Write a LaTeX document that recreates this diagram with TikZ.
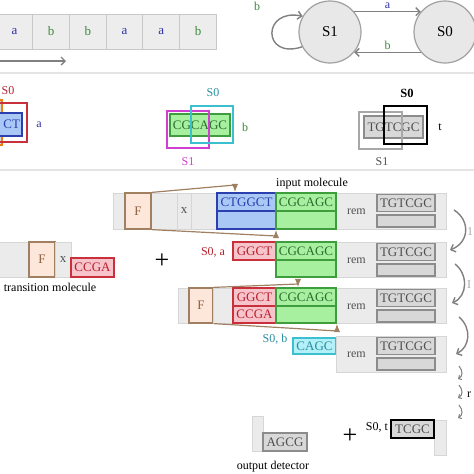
\documentclass[tikz,border=0pt]{standalone}
\usepackage{fontspec}
\setmainfont{Liberation Serif}
\usetikzlibrary{arrows.meta,calc,positioning}

\definecolor{tapefill}{HTML}{EDEDED}
\definecolor{tapedraw}{HTML}{C8C8C8}
\definecolor{statefill}{HTML}{E8E8E8}
\definecolor{statedraw}{HTML}{A0A0A0}
\definecolor{arrowgray}{HTML}{808080}
\definecolor{sepgray}{HTML}{E4E4E4}
\definecolor{syma}{HTML}{3030A8}
\definecolor{symb}{HTML}{3A8A3A}
\definecolor{bluefill}{HTML}{A9C8F5}
\definecolor{bluedraw}{HTML}{2B3FAF}
\definecolor{greenfill}{HTML}{A6F0A0}
\definecolor{greendraw}{HTML}{3E9E3E}
\definecolor{greentext}{HTML}{2E6E2E}
\definecolor{redfill}{HTML}{F8C4CC}
\definecolor{reddraw}{HTML}{C8303C}
\definecolor{redtext}{HTML}{B8202C}
\definecolor{cyanfill}{HTML}{B4F0F8}
\definecolor{cyandraw}{HTML}{3CC0D0}
\definecolor{cyantext}{HTML}{2890A0}
\definecolor{grayfill}{HTML}{D8D8D8}
\definecolor{graydraw}{HTML}{8C8C8C}
\definecolor{graytext}{HTML}{505050}
\definecolor{lightdraw}{HTML}{A8A8A8}
\definecolor{ffill}{HTML}{FDE6DA}
\definecolor{fdraw}{HTML}{A08060}
\definecolor{ftext}{HTML}{906040}
\definecolor{stripfill}{HTML}{EBEBEB}
\definecolor{stripdraw}{HTML}{D6D6D6}
\definecolor{magentadraw}{HTML}{D040D0}

\begin{document}
\begin{tikzpicture}[x=1pt, y=-1pt, >=Latex, font=\fontsize{12}{14}\selectfont,
    box/.style={inner sep=0pt, line width=1.4pt, font=\fontsize{13}{15}\selectfont},
    tapecell/.style={box, draw=tapedraw, fill=tapefill, line width=1pt, minimum width=36.7pt, minimum height=35pt},
    strip/.style={box, draw=stripdraw, fill=stripfill, line width=1pt},
    bluebox/.style={box, draw=bluedraw, fill=bluefill, text=bluedraw},
    greenbox/.style={box, draw=greendraw, fill=greenfill, text=greentext},
    redbox/.style={box, draw=reddraw, fill=redfill, text=redtext},
    cyanbox/.style={box, draw=cyandraw, fill=cyanfill, text=cyantext},
    graybox/.style={box, draw=graydraw, fill=grayfill, text=graytext, line width=1.2pt},
    fbox/.style={box, draw=fdraw, fill=ffill, text=ftext, line width=1.2pt},
    frame/.style={box, fill=none},
    statenode/.style={circle, draw=statedraw, fill=statefill, line width=1.2pt, minimum size=62pt, inner sep=0pt, font=\fontsize{15}{17}\selectfont},
    grayarrow/.style={draw=arrowgray, line width=1.4pt, -{Straight Barb[length=4pt, width=8pt]}},
    brownline/.style={draw=fdraw, line width=1.2pt},
    sepline/.style={draw=sepgray, line width=1.5pt},
    plus/.style={font=\fontsize{26}{26}\selectfont, inner sep=0pt}]
    \useasboundingbox (0,0) rectangle (474,474);
    \clip (0,0) rectangle (474,474);

    % input tape and head
    \foreach \s/\c [count=\i from 0] in {a/syma,b/symb,b/symb,a/syma,a/syma,b/symb}{
        \node[tapecell, text=\c] (tape\i) at (14.5+36.7*\i,31.5) {\s};
    }
    \coordinate (hd0) at (-2,61);
    \coordinate (hd1) at (66,61);
    \draw[grayarrow] (hd0) -- (hd1);

    % automaton
    \node[statenode] (s1) at (330,32) {S1};
    \node[statenode] (s0) at (445,32) {S0};
    \draw[grayarrow] (s1.40) -- node[above, text=syma, inner sep=2pt] {a} (s0.140);
    \draw[grayarrow] (s0.-140) -- node[above, text=symb, inner sep=2pt] {b} (s1.-40);
    \draw[grayarrow] (s1.208) .. controls (262,60) and (262,8) .. (s1.150);
    \node[text=symb] (loopb) at (257,6) {b};

    % separators
    \coordinate (sepa0) at (0,73);
    \coordinate (sepa1) at (474,73);
    \coordinate (sepb0) at (0,170);
    \coordinate (sepb1) at (474,170);
    \draw[sepline] (sepa0) -- (sepa1);
    \draw[sepline] (sepb0) -- (sepb1);

    % encodings of the symbols
    \node[box, draw=orange!70!brown, fill=grayfill, minimum width=14pt, minimum height=45pt] (lfrag) at (-5,122.5) {};
    \node[bluebox, inner xsep=2pt, text width=38pt, align=right, minimum height=23pt] (ctbox) at (1,124.5) {CT};
    \node[frame, draw=reddraw, minimum width=37pt, minimum height=39pt] (lfS0) at (8.5,122.5) {};
    \node[text=redtext, inner sep=1pt] (lfS0lbl) at (8,91) {S0};
    \node[text=syma] (lbla) at (39,125) {a};

    \node[greenbox, minimum width=60pt, minimum height=22pt] (mid) at (200,125) {CGCAGC};
    \node[frame, draw=magentadraw, minimum width=42pt, minimum height=37pt] (midS1) at (188,129.5) {};
    \node[frame, draw=cyandraw, minimum width=42pt, minimum height=37pt] (midS0) at (212,124.5) {};
    \node[text=cyantext] (midS0lbl) at (213,93) {S0};
    \node[text=magentadraw] (midS1lbl) at (188,162) {S1};
    \node[text=symb] (lblb) at (245,127) {b};

    \node[graybox, minimum width=59pt, minimum height=22pt] (rgt) at (393.5,127) {TGTCGC};
    \node[frame, draw=lightdraw, minimum width=43pt, minimum height=37pt] (rgtS1) at (380.5,130.5) {};
    \node[frame, draw=black, minimum width=43pt, minimum height=38pt] (rgtS0) at (405.5,125) {};
    \node[font=\fontsize{12.5}{14}\selectfont\bfseries] (rgtS0lbl) at (407,93) {S0};
    \node[text=graytext] (rgtS1lbl) at (382,162) {S1};
    \node (lblt) at (440,127) {t};

    % input molecule
    \node[strip, minimum width=333pt, minimum height=36pt] (m1) at (279.5,211) {};
    \node[fbox, minimum width=26pt, minimum height=36pt] (m1F) at (138,211) {F};
    \node[strip, text=graytext, minimum width=14pt, minimum height=36pt] (m1x) at (184,211) {x};
    \node[bluebox, minimum width=59pt, minimum height=18pt] (m1in) at (246.5,202) {CTGGCT};
    \node[bluebox, minimum width=59pt, minimum height=18pt] (m1inb) at (246.5,220) {};
    \node[greenbox, minimum width=60pt, minimum height=18pt] (m1g) at (306,202) {CGCAGC};
    \node[greenbox, minimum width=60pt, minimum height=18pt] (m1gb) at (306,220) {};
    \node (inlbl) at (312,184) {input molecule};
    \coordinate (m1k1) at (235,185);
    \coordinate (m1k2) at (276,236);
    \draw[brownline, ->] (m1F.north east) -- (m1k1) -- (m1k1 |- m1in.north);
    \draw[brownline, ->] (m1F.south east) -- (m1k2) -- (m1k2 |- m1inb.south);

    % transition molecule
    \node[strip, minimum width=76pt, minimum height=35pt] (tm) at (33,259.5) {};
    \node[fbox, minimum width=26pt, minimum height=35pt] (tmF) at (42,259.5) {F};
    \node[strip, text=graytext, minimum width=16pt, minimum height=35pt] (tmx) at (63,259.5) {x};
    \node[redbox, minimum width=43pt, minimum height=19pt] (tmr) at (92.5,267.5) {CCGA};
    \node (tmlbl) at (50,287) {transition molecule};
    \node[plus] (plus1) at (162,261) {+};

    % after cutting with S0, a
    \node[text=redtext] (m2lbl) at (213,252) {S0, a};
    \node[redbox, minimum width=43pt, minimum height=18pt] (m2r) at (254.5,251) {GGCT};
    \node[strip, minimum width=170pt, minimum height=35pt] (m2) at (361,259.5) {};
    \node[greenbox, minimum width=60pt, minimum height=18pt] (m2g) at (306,251) {CGCAGC};
    \node[greenbox, minimum width=60pt, minimum height=17pt] (m2gb) at (306,268.5) {};

    % ligated with the transition molecule
    \node[strip, minimum width=268pt, minimum height=35pt] (m3) at (312,305.5) {};
    \node[fbox, minimum width=24pt, minimum height=35pt] (m3F) at (201,305.5) {F};
    \node[strip, minimum width=20pt, minimum height=35pt] (m3c) at (223,305.5) {};
    \node[redbox, minimum width=43pt, minimum height=18pt] (m3r) at (254.5,297) {GGCT};
    \node[redbox, minimum width=43pt, minimum height=17pt] (m3rb) at (254.5,314.5) {CCGA};
    \node[greenbox, minimum width=60pt, minimum height=18pt] (m3g) at (306,297) {CGCAGC};
    \node[greenbox, minimum width=60pt, minimum height=17pt] (m3gb) at (306,314.5) {};
    \coordinate (m3k1) at (298,284);
    \coordinate (m3k2) at (337,331);
    \draw[brownline, ->] (m3F.north east) -- (m3k1) -- (m3k1 |- m3g.north);
    \draw[brownline, ->] (m3F.south east) -- (m3k2) -- (m3k2 |- m3gb.south);

    % after cutting with S0, b
    \node[text=cyantext] (m4lbl) at (275,339) {S0, b};
    \node[cyanbox, minimum width=43pt, minimum height=16pt] (m4c) at (314.5,346) {CAGC};
    \node[strip, minimum width=110pt, minimum height=36pt] (m4) at (391,354) {};

    % remainder of every molecule
    \foreach \n/\y in {m1/193,m2/242,m3/288,m4/336}{
        \node[text=graytext] (\n-rem) at (356.5,\y+19) {rem};
        \node[graybox, minimum width=58pt, minimum height=17pt] (\n-t) at (406,\y+10) {TGTCGC};
        \node[graybox, minimum width=58pt, minimum height=12pt] (\n-tb) at (406,\y+28) {};
    }

    % output detector
    \node[strip, minimum width=11pt, minimum height=35pt] (odbar) at (257.5,433.5) {};
    \node[graybox, minimum width=44pt, minimum height=18pt] (odbox) at (285,442) {AGCG};
    \node (odlbl) at (273,467) {output detector};
    \node[plus] (plus2) at (350,436) {+};
    \node (m5lbl) at (377,427) {S0, t};
    \node[strip, minimum width=12pt, minimum height=35pt] (m5bar) at (440,437.5) {};
    \node[graybox, draw=black, line width=1.6pt, minimum width=43pt, minimum height=18pt] (m5t) at (412.5,429) {TCGC};

    % steps on the right
    \coordinate (r1a) at (454,210);
    \coordinate (r1b) at (450,250);
    \coordinate (r2a) at (455,264);
    \coordinate (r2b) at (452,303);
    \coordinate (r3a) at (459,317);
    \coordinate (r3b) at (456,354);
    \draw[grayarrow] (r1a) .. controls (470,220) and (470,242) .. (r1b);
    \draw[grayarrow] (r2a) .. controls (468,274) and (468,296) .. (r2b);
    \draw[grayarrow] (r3a) .. controls (472,328) and (470,347) .. (r3b);
    \foreach \y [count=\i] in {366,385,405}{
        \coordinate (q\i a) at (459,\y);
        \coordinate (q\i b) at (458,\y+13);
        \draw[grayarrow, line width=1pt, -{Straight Barb[length=2.5pt, width=5pt]}] (q\i a) .. controls (463,\y+5) and (463,\y+10) .. (q\i b);
    }
    \node[text=lightdraw, anchor=west, inner sep=1pt] (stp1) at (466,232) {1};
    \node[text=lightdraw, anchor=west, inner sep=1pt] (stp2) at (466,285) {I};
    \node[anchor=west, inner sep=1pt] (stp3) at (466,395) {r};
\end{tikzpicture}
\end{document}
